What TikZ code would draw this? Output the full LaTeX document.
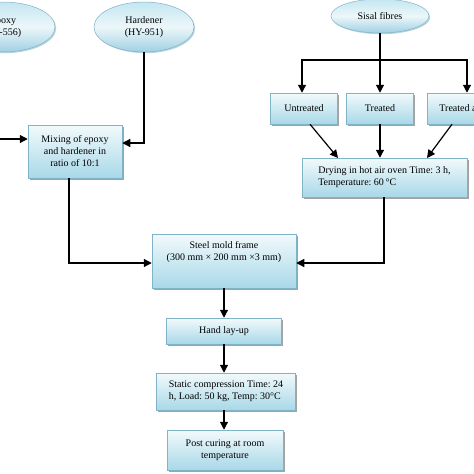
\documentclass[tikz,border=0pt]{standalone}
\usepackage{fontspec}
\setmainfont{Liberation Serif}
\usetikzlibrary{shapes.geometric,shadows,arrows.meta}
\definecolor{boxtop}{RGB}{242,250,252}
\definecolor{boxbot}{RGB}{168,216,232}
\definecolor{boxline}{RGB}{128,178,200}
\definecolor{elltop}{RGB}{196,230,241}
\definecolor{ellmid}{RGB}{236,247,250}
\definecolor{ellbot}{RGB}{160,208,226}
\tikzset{
  txt/.style={font=\fontsize{10}{12}\selectfont\frenchspacing},
  stepbox/.style={txt, rectangle, draw=boxline, line width=0.5pt, inner sep=0pt,
    top color=boxtop, bottom color=boxbot,
    drop shadow={shadow xshift=1.6pt, shadow yshift=-1.6pt, fill=black!45, opacity=0.8}},
  oval/.style={txt, ellipse, draw=boxline, line width=0.5pt, inner sep=0pt,
    top color=elltop, bottom color=ellbot, middle color=ellmid,
    drop shadow={shadow xshift=1.2pt, shadow yshift=-1.2pt, fill=boxline!80, opacity=0.7}},
  conn/.style={line width=1.2pt, black},
  arr/.style={conn, -{Triangle[length=8pt,width=8pt]}}
}
\begin{document}
\begin{tikzpicture}[x=1pt,y=-1pt]
\useasboundingbox (0,0) rectangle (474,474);
\clip (0,0) rectangle (474,474);
\fill[white] (0,0) rectangle (474,474);

% ellipses
\node[oval, minimum width=104pt, minimum height=50pt, align=center] (epoxy) at (3,27) {Epoxy\\(LY-556)};
\node[oval, minimum width=100pt, minimum height=50pt, align=center] (hardener) at (144,27) {Hardener\\(HY-951)};
\node[oval, minimum width=98pt, minimum height=34pt] (sisal) at (380,16) {Sisal fibres};

% fibre treatment boxes
\node[stepbox, minimum width=67pt, minimum height=31pt] (untreated) at (304,108.5) {Untreated};
\node[stepbox, minimum width=67pt, minimum height=31pt] (treated) at (380,108.5) {Treated};
\node[stepbox, minimum width=67pt, minimum height=31pt] (treatedb) at (461,108.5) {\hspace*{4pt}Treated and};

% process boxes
\node[stepbox, minimum width=94pt, minimum height=53pt, align=center] (mixing) at (75,151.5) {Mixing of epoxy\\and hardener in\\ratio of 10:1};
\node[stepbox, minimum width=165pt, minimum height=39pt, align=left] (drying) at (384.5,177.5) {Drying in hot air oven Time: 3 h,\\Temperature: 60\,°C};
\node[stepbox, minimum width=144pt, minimum height=54pt, align=center] (steel) at (224,261) {Steel mold frame\\(300 mm × 200 mm ×3 mm)\\[8pt]};
\node[stepbox, minimum width=115pt, minimum height=26pt] (hand) at (224,331) {Hand lay-up};
\node[stepbox, minimum width=139pt, minimum height=37pt, align=left] (static) at (226,391.5) {Static compression Time: 24\\h, Load: 50 kg, Temp: 30°C};
\node[stepbox, minimum width=116pt, minimum height=40pt, align=center] (post) at (225,450) {Post curing at room\\temperature};

% connectors
\coordinate (split) at (380,60);
\coordinate (dryin1) at (338,158);
\coordinate (dryin3) at (427,158);
\coordinate (dryout) at (384,197);
\draw[conn] (sisal.south) -- (split);
\draw[arr] (split) -| ([xshift=-2pt]untreated.north);
\draw[arr] (split) -- (treated.north);
\draw[arr] (split) -| ([xshift=6pt]treatedb.north);

\draw[arr] ([xshift=6pt]untreated.south) -- (dryin1);
\draw[arr] (treated.south) -- (treated.south |- drying.north);
\draw[arr] ([xshift=-9pt]treatedb.south) -- (dryin3);

\draw[arr] (epoxy.250) |- ([yshift=12.5pt]mixing.west);
\draw[arr] (hardener.south) |- ([yshift=8.5pt]mixing.east);

\draw[arr] ([xshift=-6pt]mixing.south) |- ([yshift=-2pt]steel.west);
\draw[arr] (dryout) |- ([yshift=-2pt]steel.east);

\draw[arr] (steel.south) -- (hand.north);
\draw[arr] (hand.south) -- (hand.south |- static.north);
\draw[arr] (static.south -| hand.south) -- (post.north -| hand.south);
\end{tikzpicture}
\end{document}
